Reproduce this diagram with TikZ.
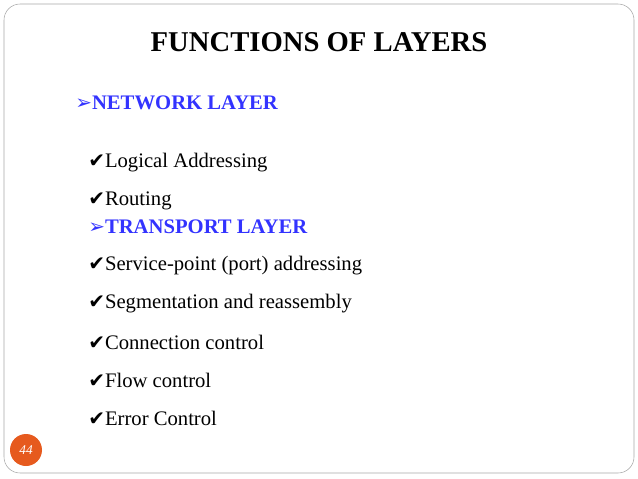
\documentclass[tikz,border=0pt]{standalone}
\usepackage{fontspec}
\setmainfont{Liberation Serif}
\newfontfamily\sym{DejaVu Sans}
\definecolor{hblue}{RGB}{51,51,255}
\definecolor{orng}{RGB}{230,90,30}
\newcommand{\ck}{{\sym\fontsize{15}{16}\selectfont ✔}}
\newcommand{\ar}{{\sym\fontsize{15}{16}\selectfont ➢}}
\begin{document}
\begin{tikzpicture}[x=0.75pt,y=-0.75pt,
  item/.style={anchor=west,inner sep=0pt,font=\fontsize{15.5}{18}\selectfont},
  head/.style={item,text=hblue,font=\fontsize{15.5}{18}\selectfont\bfseries}]
\useasboundingbox (0,0) rectangle (638,478);
\draw[gray!70,rounded corners=12pt] (4,4) rectangle (634,473);
\node[font=\fontsize{21.5}{24}\selectfont\bfseries] (title) at (319,42) {FUNCTIONS OF LAYERS};
\node[head] (net) at (75,103) {\ar NETWORK LAYER};
\node[item] (a1) at (88,163) {\ck Logical Addressing};
\node[item] (a2) at (88,201) {\ck Routing};
\node[head] (tr) at (88,227) {\ar TRANSPORT LAYER};
\node[item] (b1) at (88,266) {\ck Service-point (port) addressing};
\node[item] (b2) at (88,304) {\ck Segmentation and reassembly};
\node[item] (b3) at (88,342) {\ck Connection control};
\node[item] (b4) at (88,380) {\ck Flow control};
\node[item] (b5) at (88,418) {\ck Error Control};
\node[circle,fill=orng,minimum size=24pt,inner sep=0pt,text=white,font=\fontsize{10}{12}\selectfont\itshape] (num) at (26,450) {44};
\end{tikzpicture}
\end{document}
